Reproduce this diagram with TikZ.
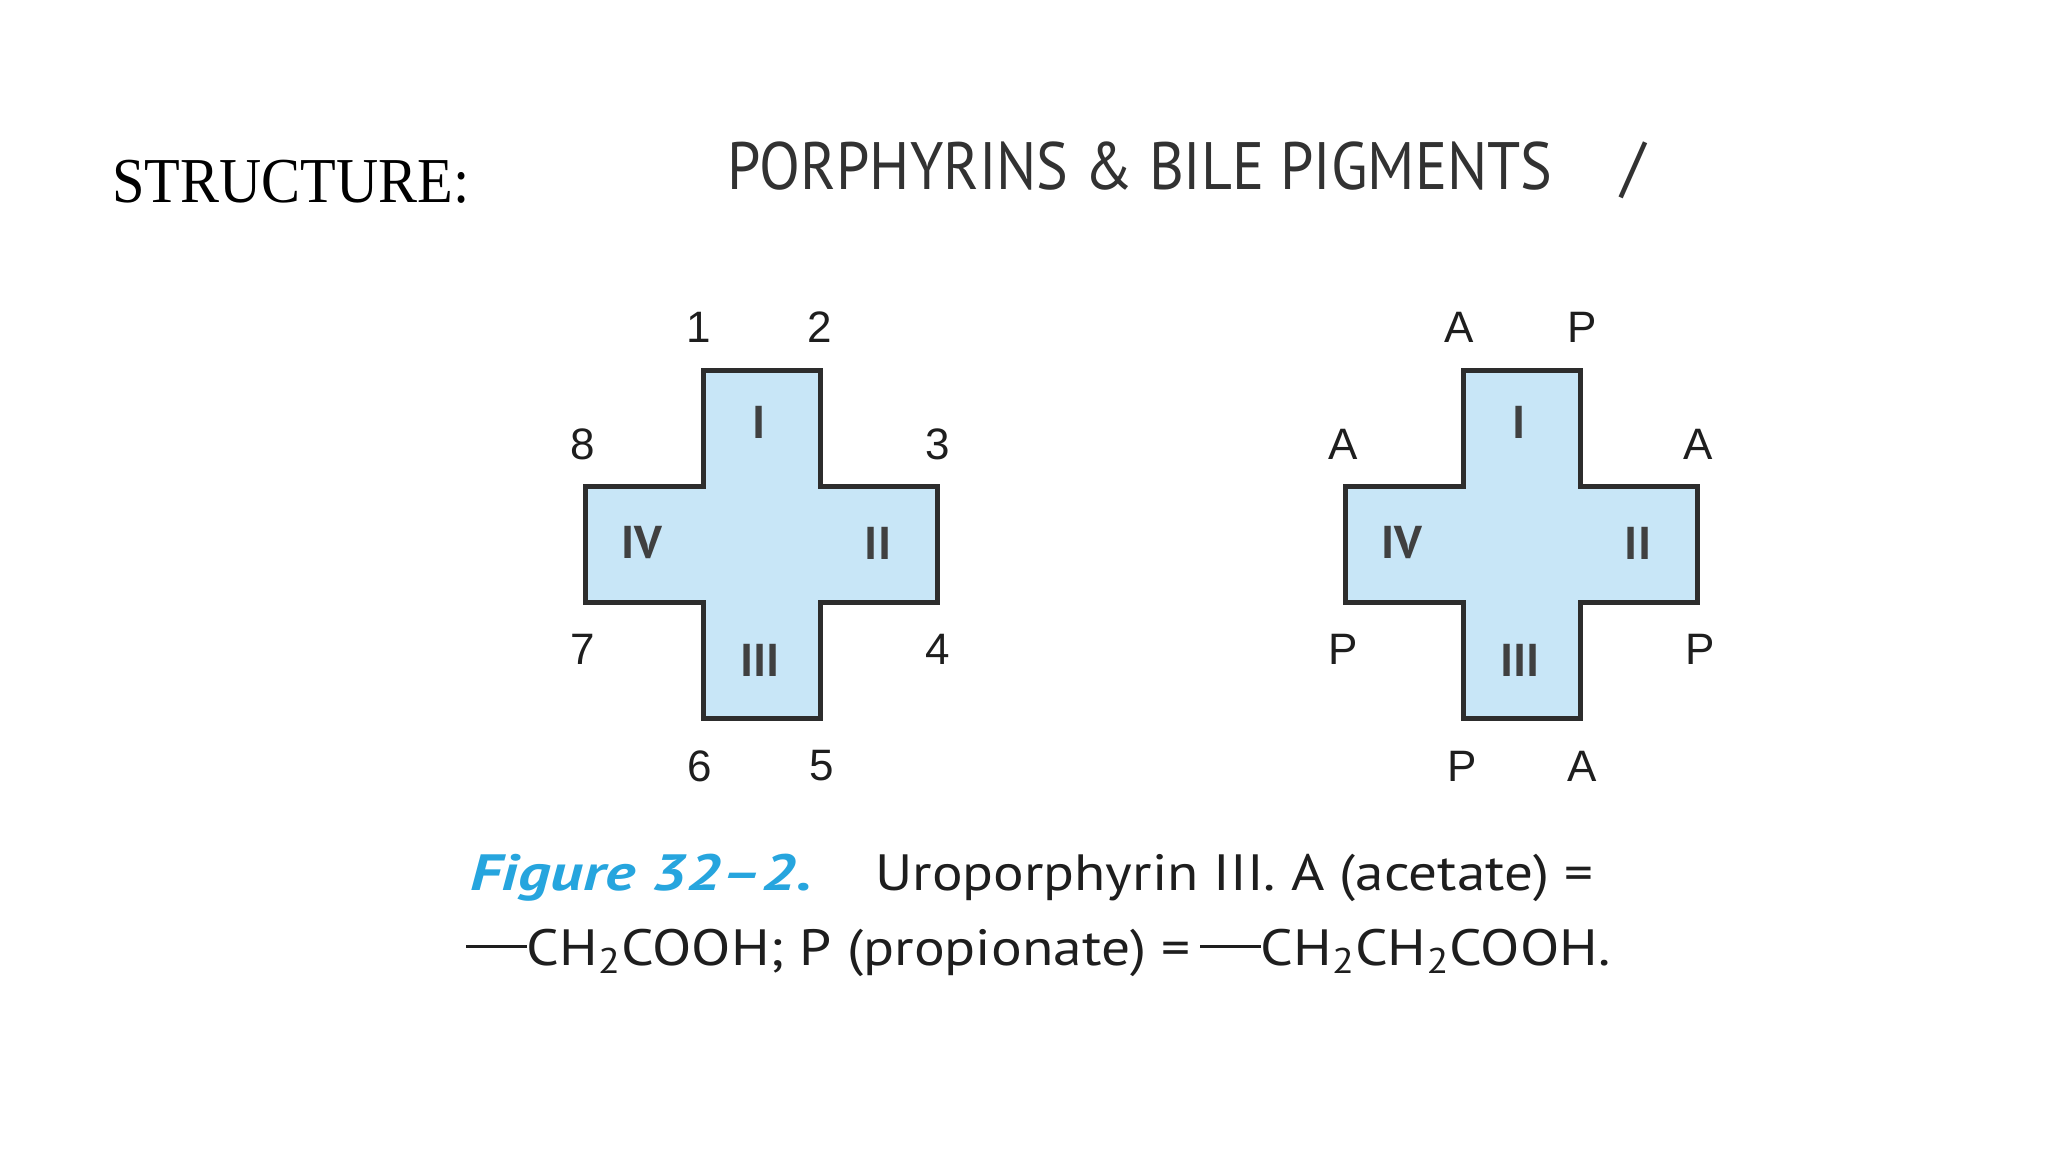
\documentclass[tikz,border=0pt]{standalone}
\usepackage{fontspec}
\usepackage{graphicx}
\setmainfont{Liberation Serif}
\newfontfamily\labfont{Liberation Sans}
\newfontfamily\myr{PT Sans}
\definecolor{crossfill}{RGB}{200,230,247}
\definecolor{crossline}{RGB}{45,45,45}
\definecolor{figblue}{RGB}{38,165,222}
\definecolor{captext}{RGB}{30,30,30}
\definecolor{titletext}{RGB}{50,50,50}
\newcommand\fitw[2]{\resizebox{#1}{\height}{#2}}
\newcommand\bonddash{\rule[0.33em]{1.05em}{0.06em}}
\begin{document}
\begin{tikzpicture}[x=0.5pt,y=-0.5pt,
  lab/.style={font=\labfont\fontsize{22}{22}\selectfont, text=captext, inner sep=0pt, anchor=center},
  roman/.style={font=\myr\bfseries\fontsize{23}{23}\selectfont, text=captext!85!white, inner sep=0pt, anchor=center},
  crossbox/.style={fill=crossfill, draw=crossline, line width=2.5pt, line join=miter},
  captxt/.style={font=\myr\fontsize{25.5}{25.5}\selectfont, text=captext, inner sep=0pt, anchor=base west},
]
\useasboundingbox (0,0) rectangle (2048,1152);
\fill[white] (0,0) rectangle (2048,1152);

% heading
\node[anchor=base west, inner sep=0pt, font=\fontsize{32}{32}\selectfont] (struct) at (112,202) {\fitw{178.5pt}{STRUCTURE:}};
\node[anchor=base west, inner sep=0pt, font=\myr\fontsize{33.5}{33.5}\selectfont, text=titletext] (title) at (727,189) {\fitw{412.5pt}{PORPHYRINS \& BILE PIGMENTS}};
\node[anchor=base, inner sep=0pt, font=\myr\fontsize{33.5}{33.5}\selectfont, text=titletext] (slash) at (1633,189) {/};

% left cross
\draw[crossbox] (703,370) -- (820,370) -- (820,486) -- (937,486) -- (937,602) -- (820,602) -- (820,718) -- (703,718) -- (703,602) -- (585,602) -- (585,486) -- (703,486) -- cycle;
\node[roman] (lI) at (759,422) {I};
\node[roman] (lII) at (878,543) {II};
\node[roman] (lIII) at (760,660) {III};
\node[roman] (lIV) at (642,543) {IV};
\node[lab] (n1) at (699,327) {1};
\node[lab] (n2) at (820,327) {2};
\node[lab] (n3) at (938,444) {3};
\node[lab] (n4) at (938,649) {4};
\node[lab] (n5) at (822,766) {5};
\node[lab] (n6) at (700,766) {6};
\node[lab] (n7) at (583,649) {7};
\node[lab] (n8) at (583,444) {8};

% right cross
\begin{scope}[xshift=380pt]
\draw[crossbox] (703,370) -- (820,370) -- (820,486) -- (937,486) -- (937,602) -- (820,602) -- (820,718) -- (703,718) -- (703,602) -- (585,602) -- (585,486) -- (703,486) -- cycle;
\node[roman] (rI) at (759,422) {I};
\node[roman] (rII) at (878,543) {II};
\node[roman] (rIII) at (760,660) {III};
\node[roman] (rIV) at (642,543) {IV};
\node[lab] (s1) at (699,327) {A};
\node[lab] (s2) at (822,327) {P};
\node[lab] (s3) at (938,444) {A};
\node[lab] (s4) at (940,649) {P};
\node[lab] (s5) at (822,766) {A};
\node[lab] (s6) at (702,766) {P};
\node[lab] (s7) at (583,649) {P};
\node[lab] (s8) at (583,444) {A};
\end{scope}

% caption
\node[captxt, text=figblue] (figlab) at (470,890) {\fitw{171pt}{\bfseries\itshape Figure 32–2.}};
\node[captxt] (cap1) at (875,890) {\fitw{359pt}{Uroporphyrin III. A (acetate) =}};
\node[captxt] (cap2) at (466,965) {\fitw{572pt}{\bonddash CH\textsubscript{2}COOH; P (propionate) =\,\bonddash CH\textsubscript{2}CH\textsubscript{2}COOH.}};
\end{tikzpicture}
\end{document}
